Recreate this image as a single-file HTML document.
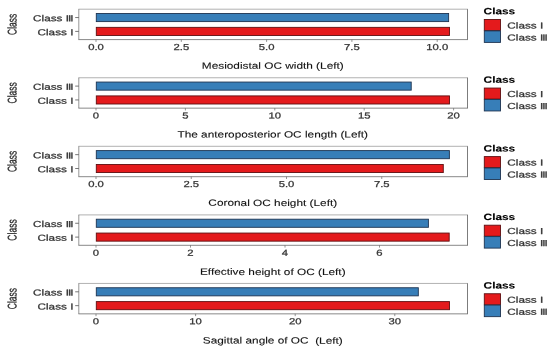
<!DOCTYPE html>
<html lang="en"><head><meta charset="utf-8"><title>OC measurements by Class</title>
<style>html,body{margin:0;padding:0;background:#fff}body{width:550px;height:351px;overflow:hidden}svg{display:block}</style>
</head><body>
<svg width="550" height="351" viewBox="0 0 550 351" font-family="Liberation Sans, Arial, sans-serif" text-rendering="geometricPrecision">
<rect width="550" height="351" fill="#fff"/>
<g>
<rect x="96.30" y="13.50" width="352.33" height="8.1" fill="#377EB8" stroke="#1d3350" stroke-width="0.9"/>
<rect x="96.30" y="27.35" width="353.18" height="8.1" fill="#E41A1C" stroke="#5e0f11" stroke-width="0.9"/>
<line x1="78.45" x2="467.9" y1="9.20" y2="9.20" stroke="#909090" stroke-width="0.7"/>
<line x1="78.45" x2="467.9" y1="39.60" y2="39.60" stroke="#6a6a6a" stroke-width="0.8"/>
<line x1="78.8" x2="78.8" y1="9.20" y2="39.60" stroke="#686868" stroke-width="0.7"/>
<line x1="467.5" x2="467.5" y1="9.20" y2="39.60" stroke="#5a5a5a" stroke-width="0.8"/>
<line x1="75.2" x2="78.8" y1="17.55" y2="17.55" stroke="#555" stroke-width="0.8"/>
<text transform="translate(72.40,21.30) scale(1.35,1) rotate(0.05)" font-size="8.7" text-anchor="end" fill="#363636" stroke="#363636" stroke-width="0.25" font-weight="normal">Class <tspan letter-spacing="-0.75">III</tspan></text>
<line x1="75.2" x2="78.8" y1="31.40" y2="31.40" stroke="#555" stroke-width="0.8"/>
<text transform="translate(73.40,35.15) scale(1.35,1) rotate(0.05)" font-size="8.7" text-anchor="end" fill="#363636" stroke="#363636" stroke-width="0.25" font-weight="normal">Class I</text>
<text transform="translate(16.50,24.30) scale(1.48,1) rotate(-89.95)" font-size="8.5" text-anchor="middle" fill="#2a2a2a" stroke="#2a2a2a" stroke-width="0.2" font-weight="normal">Class</text>
<line x1="96.00" x2="96.00" y1="39.60" y2="41.90" stroke="#666" stroke-width="0.7"/>
<text transform="translate(96.00,50.00) scale(1.3,1) rotate(0.05)" font-size="8.7" text-anchor="middle" fill="#363636" stroke="#363636" stroke-width="0.25" font-weight="normal">0.0</text>
<line x1="181.30" x2="181.30" y1="39.60" y2="41.90" stroke="#666" stroke-width="0.7"/>
<text transform="translate(181.30,50.00) scale(1.3,1) rotate(0.05)" font-size="8.7" text-anchor="middle" fill="#363636" stroke="#363636" stroke-width="0.25" font-weight="normal">2.5</text>
<line x1="266.60" x2="266.60" y1="39.60" y2="41.90" stroke="#666" stroke-width="0.7"/>
<text transform="translate(266.60,50.00) scale(1.3,1) rotate(0.05)" font-size="8.7" text-anchor="middle" fill="#363636" stroke="#363636" stroke-width="0.25" font-weight="normal">5.0</text>
<line x1="351.90" x2="351.90" y1="39.60" y2="41.90" stroke="#666" stroke-width="0.7"/>
<text transform="translate(351.90,50.00) scale(1.3,1) rotate(0.05)" font-size="8.7" text-anchor="middle" fill="#363636" stroke="#363636" stroke-width="0.25" font-weight="normal">7.5</text>
<line x1="437.20" x2="437.20" y1="39.60" y2="41.90" stroke="#666" stroke-width="0.7"/>
<text transform="translate(437.20,50.00) scale(1.3,1) rotate(0.05)" font-size="8.7" text-anchor="middle" fill="#363636" stroke="#363636" stroke-width="0.25" font-weight="normal">10.0</text>
<text transform="translate(272.75,68.80) scale(1.3,1) rotate(0.05)" font-size="9.1" text-anchor="middle" fill="#111" stroke="#111" stroke-width="0.1" font-weight="normal">Mesiodistal OC width (Left)</text>
<text transform="translate(483.60,14.30) scale(1.3,1) rotate(0.05)" font-size="9.1" text-anchor="start" fill="#000" stroke="#000" stroke-width="0.15" font-weight="bold">Class</text>
<rect x="484.3" y="19.50" width="16.2" height="11.0" fill="#E41A1C" stroke="#5e0f11" stroke-width="0.9"/>
<rect x="484.3" y="30.90" width="16.2" height="11.5" fill="#377EB8" stroke="#1d3350" stroke-width="0.9"/>
<text transform="translate(507.30,28.40) scale(1.35,1) rotate(0.05)" font-size="8.7" text-anchor="start" fill="#363636" stroke="#363636" stroke-width="0.25" font-weight="normal">Class I</text>
<text transform="translate(507.30,40.40) scale(1.35,1) rotate(0.05)" font-size="8.7" text-anchor="start" fill="#363636" stroke="#363636" stroke-width="0.25" font-weight="normal">Class <tspan letter-spacing="-0.75">III</tspan></text>
</g>
<g>
<rect x="96.30" y="82.05" width="314.92" height="8.1" fill="#377EB8" stroke="#1d3350" stroke-width="0.9"/>
<rect x="96.30" y="95.90" width="353.19" height="8.1" fill="#E41A1C" stroke="#5e0f11" stroke-width="0.9"/>
<line x1="78.45" x2="467.9" y1="77.75" y2="77.75" stroke="#909090" stroke-width="0.7"/>
<line x1="78.45" x2="467.9" y1="108.15" y2="108.15" stroke="#6a6a6a" stroke-width="0.8"/>
<line x1="78.8" x2="78.8" y1="77.75" y2="108.15" stroke="#686868" stroke-width="0.7"/>
<line x1="467.5" x2="467.5" y1="77.75" y2="108.15" stroke="#5a5a5a" stroke-width="0.8"/>
<line x1="75.2" x2="78.8" y1="86.10" y2="86.10" stroke="#555" stroke-width="0.8"/>
<text transform="translate(72.40,89.85) scale(1.35,1) rotate(0.05)" font-size="8.7" text-anchor="end" fill="#363636" stroke="#363636" stroke-width="0.25" font-weight="normal">Class <tspan letter-spacing="-0.75">III</tspan></text>
<line x1="75.2" x2="78.8" y1="99.95" y2="99.95" stroke="#555" stroke-width="0.8"/>
<text transform="translate(73.40,103.70) scale(1.35,1) rotate(0.05)" font-size="8.7" text-anchor="end" fill="#363636" stroke="#363636" stroke-width="0.25" font-weight="normal">Class I</text>
<text transform="translate(16.50,92.85) scale(1.48,1) rotate(-89.95)" font-size="8.5" text-anchor="middle" fill="#2a2a2a" stroke="#2a2a2a" stroke-width="0.2" font-weight="normal">Class</text>
<line x1="96.00" x2="96.00" y1="108.15" y2="110.45" stroke="#666" stroke-width="0.7"/>
<text transform="translate(96.00,118.55) scale(1.3,1) rotate(0.05)" font-size="8.7" text-anchor="middle" fill="#363636" stroke="#363636" stroke-width="0.25" font-weight="normal">0</text>
<line x1="185.40" x2="185.40" y1="108.15" y2="110.45" stroke="#666" stroke-width="0.7"/>
<text transform="translate(185.40,118.55) scale(1.3,1) rotate(0.05)" font-size="8.7" text-anchor="middle" fill="#363636" stroke="#363636" stroke-width="0.25" font-weight="normal">5</text>
<line x1="274.80" x2="274.80" y1="108.15" y2="110.45" stroke="#666" stroke-width="0.7"/>
<text transform="translate(274.80,118.55) scale(1.3,1) rotate(0.05)" font-size="8.7" text-anchor="middle" fill="#363636" stroke="#363636" stroke-width="0.25" font-weight="normal">10</text>
<line x1="364.20" x2="364.20" y1="108.15" y2="110.45" stroke="#666" stroke-width="0.7"/>
<text transform="translate(364.20,118.55) scale(1.3,1) rotate(0.05)" font-size="8.7" text-anchor="middle" fill="#363636" stroke="#363636" stroke-width="0.25" font-weight="normal">15</text>
<line x1="453.60" x2="453.60" y1="108.15" y2="110.45" stroke="#666" stroke-width="0.7"/>
<text transform="translate(453.60,118.55) scale(1.3,1) rotate(0.05)" font-size="8.7" text-anchor="middle" fill="#363636" stroke="#363636" stroke-width="0.25" font-weight="normal">20</text>
<text transform="translate(272.75,137.50) scale(1.3,1) rotate(0.05)" font-size="9.1" text-anchor="middle" fill="#111" stroke="#111" stroke-width="0.1" font-weight="normal">The anteroposterior OC length (Left)</text>
<text transform="translate(483.60,82.85) scale(1.3,1) rotate(0.05)" font-size="9.1" text-anchor="start" fill="#000" stroke="#000" stroke-width="0.15" font-weight="bold">Class</text>
<rect x="484.3" y="88.05" width="16.2" height="11.0" fill="#E41A1C" stroke="#5e0f11" stroke-width="0.9"/>
<rect x="484.3" y="99.45" width="16.2" height="11.5" fill="#377EB8" stroke="#1d3350" stroke-width="0.9"/>
<text transform="translate(507.30,96.95) scale(1.35,1) rotate(0.05)" font-size="8.7" text-anchor="start" fill="#363636" stroke="#363636" stroke-width="0.25" font-weight="normal">Class I</text>
<text transform="translate(507.30,108.95) scale(1.35,1) rotate(0.05)" font-size="8.7" text-anchor="start" fill="#363636" stroke="#363636" stroke-width="0.25" font-weight="normal">Class <tspan letter-spacing="-0.75">III</tspan></text>
</g>
<g>
<rect x="96.30" y="150.60" width="353.08" height="8.1" fill="#377EB8" stroke="#1d3350" stroke-width="0.9"/>
<rect x="96.30" y="164.45" width="346.98" height="8.1" fill="#E41A1C" stroke="#5e0f11" stroke-width="0.9"/>
<line x1="78.45" x2="467.9" y1="146.30" y2="146.30" stroke="#909090" stroke-width="0.7"/>
<line x1="78.45" x2="467.9" y1="176.70" y2="176.70" stroke="#6a6a6a" stroke-width="0.8"/>
<line x1="78.8" x2="78.8" y1="146.30" y2="176.70" stroke="#686868" stroke-width="0.7"/>
<line x1="467.5" x2="467.5" y1="146.30" y2="176.70" stroke="#5a5a5a" stroke-width="0.8"/>
<line x1="75.2" x2="78.8" y1="154.65" y2="154.65" stroke="#555" stroke-width="0.8"/>
<text transform="translate(72.40,158.40) scale(1.35,1) rotate(0.05)" font-size="8.7" text-anchor="end" fill="#363636" stroke="#363636" stroke-width="0.25" font-weight="normal">Class <tspan letter-spacing="-0.75">III</tspan></text>
<line x1="75.2" x2="78.8" y1="168.50" y2="168.50" stroke="#555" stroke-width="0.8"/>
<text transform="translate(73.40,172.25) scale(1.35,1) rotate(0.05)" font-size="8.7" text-anchor="end" fill="#363636" stroke="#363636" stroke-width="0.25" font-weight="normal">Class I</text>
<text transform="translate(16.50,161.40) scale(1.48,1) rotate(-89.95)" font-size="8.5" text-anchor="middle" fill="#2a2a2a" stroke="#2a2a2a" stroke-width="0.2" font-weight="normal">Class</text>
<line x1="96.00" x2="96.00" y1="176.70" y2="179.00" stroke="#666" stroke-width="0.7"/>
<text transform="translate(96.00,187.10) scale(1.3,1) rotate(0.05)" font-size="8.7" text-anchor="middle" fill="#363636" stroke="#363636" stroke-width="0.25" font-weight="normal">0.0</text>
<line x1="191.25" x2="191.25" y1="176.70" y2="179.00" stroke="#666" stroke-width="0.7"/>
<text transform="translate(191.25,187.10) scale(1.3,1) rotate(0.05)" font-size="8.7" text-anchor="middle" fill="#363636" stroke="#363636" stroke-width="0.25" font-weight="normal">2.5</text>
<line x1="286.50" x2="286.50" y1="176.70" y2="179.00" stroke="#666" stroke-width="0.7"/>
<text transform="translate(286.50,187.10) scale(1.3,1) rotate(0.05)" font-size="8.7" text-anchor="middle" fill="#363636" stroke="#363636" stroke-width="0.25" font-weight="normal">5.0</text>
<line x1="381.75" x2="381.75" y1="176.70" y2="179.00" stroke="#666" stroke-width="0.7"/>
<text transform="translate(381.75,187.10) scale(1.3,1) rotate(0.05)" font-size="8.7" text-anchor="middle" fill="#363636" stroke="#363636" stroke-width="0.25" font-weight="normal">7.5</text>
<text transform="translate(272.75,205.90) scale(1.3,1) rotate(0.05)" font-size="9.1" text-anchor="middle" fill="#111" stroke="#111" stroke-width="0.1" font-weight="normal">Coronal OC height (Left)</text>
<text transform="translate(483.60,151.40) scale(1.3,1) rotate(0.05)" font-size="9.1" text-anchor="start" fill="#000" stroke="#000" stroke-width="0.15" font-weight="bold">Class</text>
<rect x="484.3" y="156.60" width="16.2" height="11.0" fill="#E41A1C" stroke="#5e0f11" stroke-width="0.9"/>
<rect x="484.3" y="168.00" width="16.2" height="11.5" fill="#377EB8" stroke="#1d3350" stroke-width="0.9"/>
<text transform="translate(507.30,165.50) scale(1.35,1) rotate(0.05)" font-size="8.7" text-anchor="start" fill="#363636" stroke="#363636" stroke-width="0.25" font-weight="normal">Class I</text>
<text transform="translate(507.30,177.50) scale(1.35,1) rotate(0.05)" font-size="8.7" text-anchor="start" fill="#363636" stroke="#363636" stroke-width="0.25" font-weight="normal">Class <tspan letter-spacing="-0.75">III</tspan></text>
</g>
<g>
<rect x="96.30" y="219.20" width="332.10" height="8.1" fill="#377EB8" stroke="#1d3350" stroke-width="0.9"/>
<rect x="96.30" y="233.05" width="352.89" height="8.1" fill="#E41A1C" stroke="#5e0f11" stroke-width="0.9"/>
<line x1="78.45" x2="467.9" y1="214.90" y2="214.90" stroke="#909090" stroke-width="0.7"/>
<line x1="78.45" x2="467.9" y1="245.30" y2="245.30" stroke="#6a6a6a" stroke-width="0.8"/>
<line x1="78.8" x2="78.8" y1="214.90" y2="245.30" stroke="#686868" stroke-width="0.7"/>
<line x1="467.5" x2="467.5" y1="214.90" y2="245.30" stroke="#5a5a5a" stroke-width="0.8"/>
<line x1="75.2" x2="78.8" y1="223.25" y2="223.25" stroke="#555" stroke-width="0.8"/>
<text transform="translate(72.40,227.00) scale(1.35,1) rotate(0.05)" font-size="8.7" text-anchor="end" fill="#363636" stroke="#363636" stroke-width="0.25" font-weight="normal">Class <tspan letter-spacing="-0.75">III</tspan></text>
<line x1="75.2" x2="78.8" y1="237.10" y2="237.10" stroke="#555" stroke-width="0.8"/>
<text transform="translate(73.40,240.85) scale(1.35,1) rotate(0.05)" font-size="8.7" text-anchor="end" fill="#363636" stroke="#363636" stroke-width="0.25" font-weight="normal">Class I</text>
<text transform="translate(16.50,230.00) scale(1.48,1) rotate(-89.95)" font-size="8.5" text-anchor="middle" fill="#2a2a2a" stroke="#2a2a2a" stroke-width="0.2" font-weight="normal">Class</text>
<line x1="96.00" x2="96.00" y1="245.30" y2="247.60" stroke="#666" stroke-width="0.7"/>
<text transform="translate(96.00,255.70) scale(1.3,1) rotate(0.05)" font-size="8.7" text-anchor="middle" fill="#363636" stroke="#363636" stroke-width="0.25" font-weight="normal">0</text>
<line x1="190.50" x2="190.50" y1="245.30" y2="247.60" stroke="#666" stroke-width="0.7"/>
<text transform="translate(190.50,255.70) scale(1.3,1) rotate(0.05)" font-size="8.7" text-anchor="middle" fill="#363636" stroke="#363636" stroke-width="0.25" font-weight="normal">2</text>
<line x1="285.00" x2="285.00" y1="245.30" y2="247.60" stroke="#666" stroke-width="0.7"/>
<text transform="translate(285.00,255.70) scale(1.3,1) rotate(0.05)" font-size="8.7" text-anchor="middle" fill="#363636" stroke="#363636" stroke-width="0.25" font-weight="normal">4</text>
<line x1="379.50" x2="379.50" y1="245.30" y2="247.60" stroke="#666" stroke-width="0.7"/>
<text transform="translate(379.50,255.70) scale(1.3,1) rotate(0.05)" font-size="8.7" text-anchor="middle" fill="#363636" stroke="#363636" stroke-width="0.25" font-weight="normal">6</text>
<text transform="translate(272.75,274.90) scale(1.3,1) rotate(0.05)" font-size="9.1" text-anchor="middle" fill="#111" stroke="#111" stroke-width="0.1" font-weight="normal">Effective height of OC (Left)</text>
<text transform="translate(483.60,220.00) scale(1.3,1) rotate(0.05)" font-size="9.1" text-anchor="start" fill="#000" stroke="#000" stroke-width="0.15" font-weight="bold">Class</text>
<rect x="484.3" y="225.20" width="16.2" height="11.0" fill="#E41A1C" stroke="#5e0f11" stroke-width="0.9"/>
<rect x="484.3" y="236.60" width="16.2" height="11.5" fill="#377EB8" stroke="#1d3350" stroke-width="0.9"/>
<text transform="translate(507.30,234.10) scale(1.35,1) rotate(0.05)" font-size="8.7" text-anchor="start" fill="#363636" stroke="#363636" stroke-width="0.25" font-weight="normal">Class I</text>
<text transform="translate(507.30,246.10) scale(1.35,1) rotate(0.05)" font-size="8.7" text-anchor="start" fill="#363636" stroke="#363636" stroke-width="0.25" font-weight="normal">Class <tspan letter-spacing="-0.75">III</tspan></text>
</g>
<g>
<rect x="96.30" y="287.75" width="322.01" height="8.1" fill="#377EB8" stroke="#1d3350" stroke-width="0.9"/>
<rect x="96.30" y="301.60" width="353.18" height="8.1" fill="#E41A1C" stroke="#5e0f11" stroke-width="0.9"/>
<line x1="78.45" x2="467.9" y1="283.45" y2="283.45" stroke="#909090" stroke-width="0.7"/>
<line x1="78.45" x2="467.9" y1="313.85" y2="313.85" stroke="#6a6a6a" stroke-width="0.8"/>
<line x1="78.8" x2="78.8" y1="283.45" y2="313.85" stroke="#686868" stroke-width="0.7"/>
<line x1="467.5" x2="467.5" y1="283.45" y2="313.85" stroke="#5a5a5a" stroke-width="0.8"/>
<line x1="75.2" x2="78.8" y1="291.80" y2="291.80" stroke="#555" stroke-width="0.8"/>
<text transform="translate(72.40,295.55) scale(1.35,1) rotate(0.05)" font-size="8.7" text-anchor="end" fill="#363636" stroke="#363636" stroke-width="0.25" font-weight="normal">Class <tspan letter-spacing="-0.75">III</tspan></text>
<line x1="75.2" x2="78.8" y1="305.65" y2="305.65" stroke="#555" stroke-width="0.8"/>
<text transform="translate(73.40,309.40) scale(1.35,1) rotate(0.05)" font-size="8.7" text-anchor="end" fill="#363636" stroke="#363636" stroke-width="0.25" font-weight="normal">Class I</text>
<text transform="translate(16.50,298.55) scale(1.48,1) rotate(-89.95)" font-size="8.5" text-anchor="middle" fill="#2a2a2a" stroke="#2a2a2a" stroke-width="0.2" font-weight="normal">Class</text>
<line x1="96.00" x2="96.00" y1="313.85" y2="316.15" stroke="#666" stroke-width="0.7"/>
<text transform="translate(96.00,324.25) scale(1.3,1) rotate(0.05)" font-size="8.7" text-anchor="middle" fill="#363636" stroke="#363636" stroke-width="0.25" font-weight="normal">0</text>
<line x1="195.60" x2="195.60" y1="313.85" y2="316.15" stroke="#666" stroke-width="0.7"/>
<text transform="translate(195.60,324.25) scale(1.3,1) rotate(0.05)" font-size="8.7" text-anchor="middle" fill="#363636" stroke="#363636" stroke-width="0.25" font-weight="normal">10</text>
<line x1="295.20" x2="295.20" y1="313.85" y2="316.15" stroke="#666" stroke-width="0.7"/>
<text transform="translate(295.20,324.25) scale(1.3,1) rotate(0.05)" font-size="8.7" text-anchor="middle" fill="#363636" stroke="#363636" stroke-width="0.25" font-weight="normal">20</text>
<line x1="394.80" x2="394.80" y1="313.85" y2="316.15" stroke="#666" stroke-width="0.7"/>
<text transform="translate(394.80,324.25) scale(1.3,1) rotate(0.05)" font-size="8.7" text-anchor="middle" fill="#363636" stroke="#363636" stroke-width="0.25" font-weight="normal">30</text>
<text transform="translate(272.75,343.60) scale(1.3,1) rotate(0.05)" font-size="9.1" text-anchor="middle" fill="#111" stroke="#111" stroke-width="0.1" font-weight="normal">Sagittal angle of OC&#160; (Left)</text>
<text transform="translate(483.60,288.55) scale(1.3,1) rotate(0.05)" font-size="9.1" text-anchor="start" fill="#000" stroke="#000" stroke-width="0.15" font-weight="bold">Class</text>
<rect x="484.3" y="293.75" width="16.2" height="11.0" fill="#E41A1C" stroke="#5e0f11" stroke-width="0.9"/>
<rect x="484.3" y="305.15" width="16.2" height="11.5" fill="#377EB8" stroke="#1d3350" stroke-width="0.9"/>
<text transform="translate(507.30,302.65) scale(1.35,1) rotate(0.05)" font-size="8.7" text-anchor="start" fill="#363636" stroke="#363636" stroke-width="0.25" font-weight="normal">Class I</text>
<text transform="translate(507.30,314.65) scale(1.35,1) rotate(0.05)" font-size="8.7" text-anchor="start" fill="#363636" stroke="#363636" stroke-width="0.25" font-weight="normal">Class <tspan letter-spacing="-0.75">III</tspan></text>
</g>
</svg>
</body></html>
